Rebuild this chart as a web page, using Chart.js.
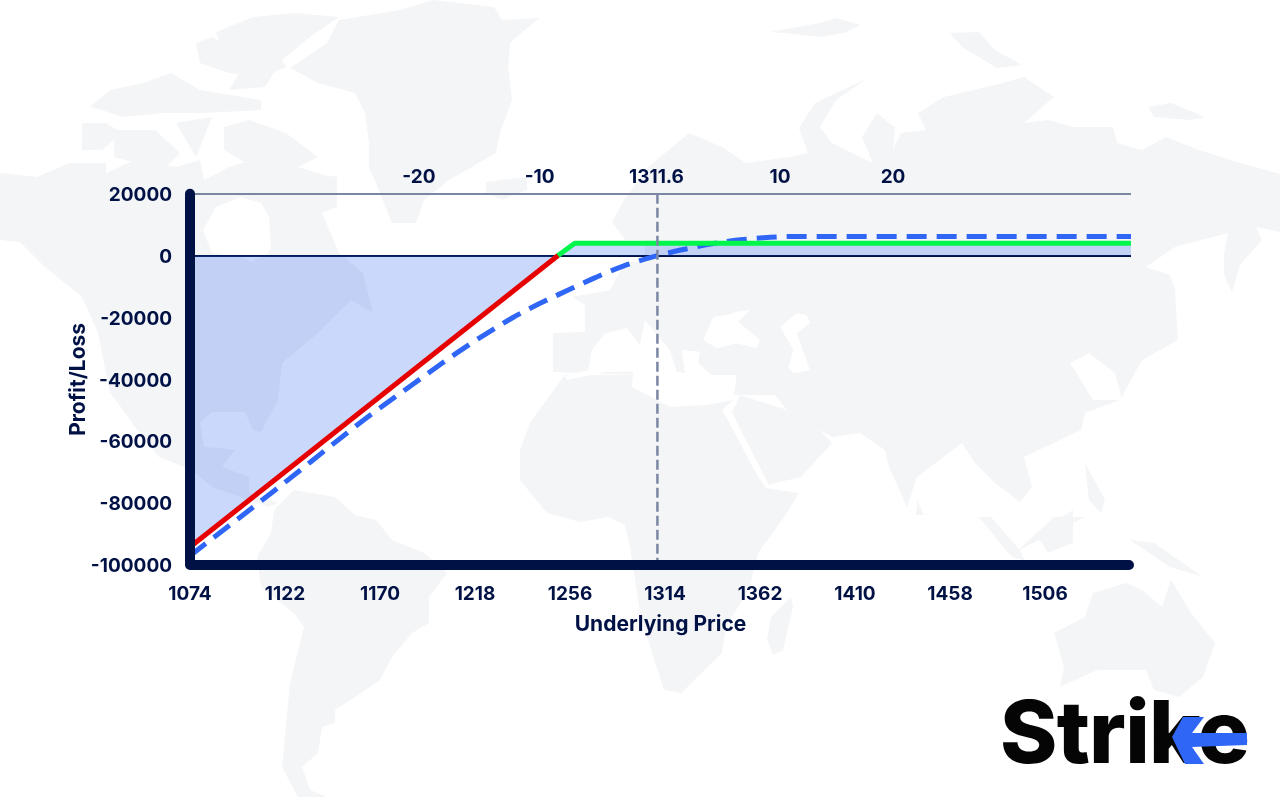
<!DOCTYPE html>
<html>
<head>
<meta charset="utf-8">
<title>Profit/Loss</title>
<script src="https://cdn.jsdelivr.net/npm/chart.js@4"></script>
<style>
    html, body { margin: 0; background: #fff; overflow: hidden; }
    #map, #chart, #logo { position: absolute; left: 0; top: 0; }
    #logo-text { position: absolute; left: 1000px; top: 682px; font: 800 87px/100px Inter, sans-serif; letter-spacing: -0.8px; color: #050505; }
    #logo { pointer-events: none; }
</style>
</head>
<body>
<svg id="map" width="1280" height="800" viewBox="0 0 1280 800" fill="#f4f5f7">
    <!-- rough world map behind the chart, traced by eye -->
    <g>
        <polygon points="290,68 327,43 339,20 400,10 433,0 494,7 502,20 539,18 510,43 508,67 512,100 500,133 496,153 449,180 424,200 416,223 392,223 380,193 369,167 369,143 365,113 355,93 318,83"/>
        <polygon points="216,32 253,17 294,13 339,17 310,37 282,60 265,87 229,90 245,63 220,43"/>
        <polygon points="196,43 212,37 245,57 278,53 286,67 261,77 229,73 200,63"/>
        <polygon points="90,107 110,90 143,83 171,73 200,90 261,100 261,110 204,113 163,113 122,117 102,110"/>
        <polygon points="224,127 249,120 286,133 318,157 298,167 331,177 335,200 318,210 298,197 286,180 253,167 224,150"/>
        <polygon points="82,123 106,123 122,133 102,150 82,150"/>
        <polygon points="114,130 155,130 180,153 163,170 114,157"/>
        <polygon points="176,123 212,117 196,157"/>
        <polygon points="486,182 527,177 527,190 502,200 486,193"/>
        <polygon points="0,173 37,177 69,163 106,163 106,173 135,160 176,167 200,160 204,180 229,167 261,157 278,163 318,180 337,175 337,207 322,213 339,253 363,273 373,313 351,300 318,333 282,363 278,400 261,432 253,430 245,412 212,412 200,423 204,447 220,448 235,450 222,467 249,477 249,493 278,503 269,507 249,500 212,487 192,470 159,457 135,427 118,403 110,393 98,333 82,297 45,267 20,242 0,240"/>
        <polygon points="274,510 294,490 335,497 355,515 376,520 392,540 424,553 447,573 429,597 429,623 412,633 392,657 380,680 355,697 335,710 335,723 322,727 318,753 302,767 310,790 327,797 298,797 282,767 290,683 304,627 294,613 261,587 257,557 271,533"/>
        <polygon points="553,333 585,332 585,305 572,297 610,290 625,262 645,262 645,240 625,240 612,222 624,200 648,167 689,133 722,147 746,163 790,157 808,153 799,128 815,103 868,78 836,100 820,127 832,143 860,157 873,163 862,137 877,113 889,123 895,127 893,150 901,133 926,130 918,113 944,97 1003,83 1024,77 1054,97 1024,123 1048,120 1073,127 1113,127 1117,143 1142,150 1166,137 1199,150 1240,163 1280,174 1280,232 1256,227 1262,240 1240,265 1232,292 1224,275 1224,255 1228,233 1175,247 1146,267 1170,275 1175,290 1178,340 1142,360 1120,400 1085,413 1081,430 1024,457 1032,487 1020,502 995,483 975,463 962,443 917,477 907,507 889,467 885,450 860,433 832,437 820,430 800,437 787,410 775,395 733,395 700,395 640,375 553,372"/>
        <polygon points="787,410 800,437 820,430 832,443 801,477 767,485 732,413 740,395"/>
        <polygon points="520,450 530,423 550,395 565,375 733,375 733,400 722,410 745,450 766,488 799,493 787,513 758,553 750,587 726,627 722,653 681,693 664,690 652,653 640,613 630,547 625,525 608,517 580,522 547,513 520,480"/>
        <polygon points="771,617 791,597 793,607 783,650 773,655 767,640"/>
        <polygon points="1054,517 1085,517 1019,550 1024,560 1011,557"/>
        <polygon points="979,517 991,517 1020,550 1024,560 1010,555"/>
        <polygon points="1036,533 1073,510 1073,543 1048,553"/>
        <polygon points="1085,463 1105,500 1101,513 1089,500"/>
        <polygon points="1130,540 1154,543 1203,577 1170,567"/>
        <polygon points="917,500 924,515 916,515"/>
        <polygon points="1054,633 1085,617 1093,593 1126,583 1142,590 1162,607 1171,580 1191,613 1215,643 1203,677 1179,697 1154,690 1146,670 1097,670 1060,687 1064,667"/>
        <polygon points="770,32 791,28 820,23 836,18 860,25 844,33 820,37 783,33"/>
        <polygon points="950,33 979,32 995,50 1022,65 997,68 962,47"/>
        <polygon points="1148,107 1171,103 1205,117 1191,120 1154,117"/>
    </g>
    <g fill="#fff">
        <!-- Hudson Bay -->
        <polygon points="203,230 216,207 241,197 261,203 269,217 271,248 265,257 253,260 265,285 255,263 241,257 212,253"/>
        <!-- Mediterranean, Black Sea, Caspian, Red Sea, Sea of Japan -->
        <g transform="translate(530 270) scale(0.3333)">
            <polygon points="105,318 175,300 185,240 225,190 290,175 330,225 345,150 385,200 420,240 440,305 465,310 455,240 510,245 505,280 545,315 620,315 610,390 530,405 420,410 305,350 310,305 230,305 110,330"/>
            <polygon points="520,210 550,140 590,135 620,125 660,120 625,155 690,210 680,235 620,220 560,235"/>
            <polygon points="750,170 800,130 830,135 840,160 800,190 840,300 790,310 775,290 790,240"/>
        </g>
        <polygon points="724,412 732,413 770,487 799,493 766,488 754,470"/>
        <polygon points="1070,363 1089,353 1115,373 1122,400 1093,400"/>
    </g>
</svg>
<canvas id="chart" width="1280" height="800"></canvas>
<div id="logo-text">Strike</div>
<svg id="logo" width="1280" height="800" viewBox="0 0 1280 800">
    <polygon fill="#2f66f5" points="1183,717 1204,717 1192,733 1247,733 1247,745 1192,747 1204,764 1185,764 1172,737"/>
</svg>
<script>
// profit/loss values
// x is the tick slot of the price axis, the slots are evenly spaced
const xTickLabels = ['1074', '1122', '1170', '1218', '1256', '1314', '1362', '1410', '1458', '1506'];
const xMax = 9.905;

const topTickLabels = ['-20', '-10', '1311.6', '10', '20'];
const topTickSlots = [2.41, 3.68, 4.91, 6.21, 7.4];

const lossX = [0, 3.874];
const lossY = [-94200, 0];

const profitX = [3.874, 4.05, 9.905];
const profitY = [0, 4000, 4000];

const curveX = [0, 0.87, 1.87, 2.35, 2.86, 3.4, 3.68, 3.97, 4.26, 4.56, 4.92, 5.23, 5.51, 5.79, 6.11, 6.39, 9.905];
const curveY = [-97000, -76400, -52200, -41500, -30400, -20000, -15500, -11300, -7200, -3400, 0, 2200, 3900, 5100, 5900, 6200, 6200];

const spotX = [4.92, 4.92];
const spotY = [20000, -100000];

const navy = '#001245';
const slate = '#7b86a3';
const fillBlue = 'rgba(45,100,245,0.25)';

function toPoints(xs, ys) {
    return xs.map((x, i) => ({ x: x, y: ys[i] }));
}

// the thick axes have round ends, the scale border can't do that
const thickAxes = {
    id: 'thickAxes',
    afterDatasetsDraw(chart) {
        const x = chart.scales.x;
        const y = chart.scales.y;
        const ctx = chart.ctx;
        ctx.save();
        ctx.strokeStyle = navy;
        ctx.lineWidth = 10;
        ctx.lineCap = 'round';
        ctx.lineJoin = 'round';
        ctx.beginPath();
        ctx.moveTo(x.left, y.top);
        ctx.lineTo(x.left, y.bottom);
        ctx.lineTo(x.right - 2, y.bottom);
        ctx.stroke();
        ctx.restore();
    }
};

const tickFont = { family: 'Inter', size: 19, weight: '700' };
const titleFont = { family: 'Inter', size: 21, weight: '700' };

new Chart(document.getElementById('chart'), {
    type: 'line',
    plugins: [thickAxes],
    data: {
        datasets: [
            { data: toPoints(spotX, spotY), borderColor: slate, borderWidth: 2.5, borderDash: [10, 4], pointRadius: 0 },
            { data: toPoints(lossX, lossY), borderColor: '#e60000', borderWidth: 5, pointRadius: 0, fill: { value: 0 }, backgroundColor: fillBlue },
            { data: toPoints(profitX, profitY), borderColor: '#00f64a', borderWidth: 5, pointRadius: 0, fill: { value: 0 }, backgroundColor: fillBlue, borderCapStyle: 'round', borderJoinStyle: 'round' },
            { data: toPoints(curveX, curveY), borderColor: '#2f66f5', borderWidth: 5, borderDash: [20, 10], pointRadius: 0, cubicInterpolationMode: 'monotone' }
        ]
    },
    options: {
        responsive: false,
        animation: false,
        layout: { padding: { left: 66, right: 149, top: 150, bottom: 163 } },
        plugins: { legend: { display: false }, tooltip: { enabled: false } },
        scales: {
            x: {
                type: 'linear',
                position: 'bottom',
                min: 0,
                max: xMax,
                afterFit(s) { s.height = 72; },
                afterBuildTicks(s) { s.ticks = xTickLabels.map((l, i) => ({ value: i })); },
                border: { display: false },
                grid: { display: false, drawTicks: false },
                ticks: {
                    color: navy, font: tickFont, padding: 18, maxRotation: 0, autoSkip: false,
                    callback: v => xTickLabels[v]
                },
                title: { display: true, text: 'Underlying Price', color: navy, font: titleFont, padding: 0 }
            },
            top: {
                type: 'linear',
                axis: 'x',
                position: 'top',
                min: 0,
                max: xMax,
                afterFit(s) { s.height = 43.7; },
                afterBuildTicks(s) { s.ticks = topTickSlots.map(v => ({ value: v })); },
                border: { display: false },
                grid: { display: false, drawTicks: false },
                ticks: {
                    color: navy, font: tickFont, padding: 5, maxRotation: 0, autoSkip: false,
                    callback: v => topTickLabels[topTickSlots.indexOf(v)]
                }
            },
            y: {
                type: 'linear',
                min: -100000,
                max: 20000,
                afterFit(s) { s.width = 124; },
                border: { display: false },
                grid: {
                    drawTicks: false,
                    lineWidth: 2,
                    color: c => c.tick.value === 0 ? navy : (c.tick.value === 20000 ? slate : 'transparent')
                },
                ticks: {
                    color: navy, font: tickFont, padding: 18, stepSize: 20000, labelOffset: 1.5,
                    callback: v => String(v)
                },
                title: { display: true, text: 'Profit/Loss', color: navy, font: titleFont, padding: 0 }
            }
        }
    }
});
</script>
</body>
</html>
